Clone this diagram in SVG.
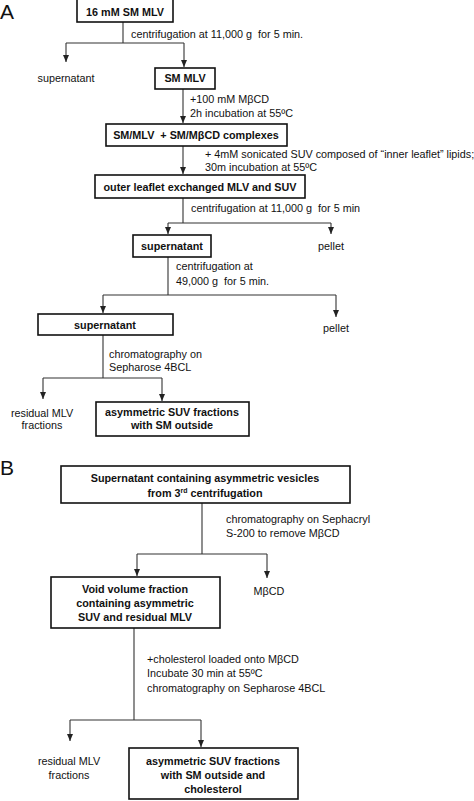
<svg xmlns="http://www.w3.org/2000/svg" width="474" height="801" viewBox="0 0 474 801">
<defs>
<marker id="ah" viewBox="0 0 7 6" refX="7" refY="3" markerWidth="7" markerHeight="6" markerUnits="userSpaceOnUse" orient="auto">
<path d="M0,0 L7,3 L0,6 Z" fill="#222"/>
</marker>
<style>
text{font-family:"Liberation Sans",Arial,sans-serif;font-size:10.8px;fill:#111;white-space:pre}
.b{font-weight:bold}
.m{text-anchor:middle}
.box{fill:#fff;stroke:#111;stroke-width:1.6}
.ln{fill:none;stroke:#333;stroke-width:1.1}
.lbl{font-size:21px;font-family:"Liberation Sans",Arial,sans-serif}
</style>
</defs>
<rect width="474" height="801" fill="#fff"/>
<text class="lbl" x="0" y="19">A</text>
<text class="lbl" x="0" y="475">B</text>

<g id="connectors">
<path class="ln" d="M123,22 V43 M66,43 H184"/>
<path class="ln" d="M66,43 V62" marker-end="url(#ah)"/>
<path class="ln" d="M184,43 V67" marker-end="url(#ah)"/>
<path class="ln" d="M183,89 V123" marker-end="url(#ah)"/>
<path class="ln" d="M183,146 V174" marker-end="url(#ah)"/>
<path class="ln" d="M183,198 V223 M168,223 H331"/>
<path class="ln" d="M168,223 V234" marker-end="url(#ah)"/>
<path class="ln" d="M331,223 V234" marker-end="url(#ah)"/>
<path class="ln" d="M168,257 V295 M103,295 H336"/>
<path class="ln" d="M103,295 V313" marker-end="url(#ah)"/>
<path class="ln" d="M336,295 V317" marker-end="url(#ah)"/>
<path class="ln" d="M103,335 V378 M43,378 H162"/>
<path class="ln" d="M43,378 V399" marker-end="url(#ah)"/>
<path class="ln" d="M162,378 V401" marker-end="url(#ah)"/>
<path class="ln" d="M202,503 V554 M137,554 H267"/>
<path class="ln" d="M137,554 V576" marker-end="url(#ah)"/>
<path class="ln" d="M267,554 V578" marker-end="url(#ah)"/>
<path class="ln" d="M134,628 V720 M70,720 H201"/>
<path class="ln" d="M70,720 V741" marker-end="url(#ah)"/>
<path class="ln" d="M201,720 V747" marker-end="url(#ah)"/>
</g>

<g id="connector-labels">
<text x="131" y="38">centrifugation at 11,000 g  for 5 min.</text>
<text x="190" y="103">+100 mM MβCD</text>
<text x="190" y="117">2h incubation at 55ºC</text>
<text x="205" y="158">+ 4mM sonicated SUV composed of “inner leaflet” lipids;</text>
<text x="205" y="171">30m incubation at 55ºC</text>
<text x="191" y="212">centrifugation at 11,000 g  for 5 min</text>
<text x="176" y="270">centrifugation at</text>
<text x="176" y="285">49,000 g  for 5 min.</text>
<text x="109" y="358">chromatography on</text>
<text x="109" y="371">Sepharose 4BCL</text>
<text x="226" y="523">chromatography on Sephacryl</text>
<text x="226" y="537">S-200 to remove MβCD</text>
<text x="147" y="663">+cholesterol loaded onto MβCD</text>
<text x="147" y="677">Incubate 30 min at 55ºC</text>
<text x="147" y="692">chromatography on Sepharose 4BCL</text>
</g>

<g id="n-16mM">
<rect class="box" x="77" y="-1" width="96" height="23"/>
<text class="b m" x="125" y="16">16 mM SM MLV</text>
</g>
<g id="n-supernatant1">
<text class="m" x="66" y="82">supernatant</text>
</g>
<g id="n-smmlv">
<rect class="box" x="155" y="68" width="60" height="21"/>
<text class="b m" x="185" y="82">SM MLV</text>
</g>
<g id="n-complexes">
<rect class="box" x="106" y="124" width="181" height="22"/>
<text class="b m" x="196" y="139">SM/MLV  + SM/MβCD complexes</text>
</g>
<g id="n-outer">
<rect class="box" x="95" y="175" width="210" height="23"/>
<text class="b m" x="200" y="191">outer leaflet exchanged MLV and SUV</text>
</g>
<g id="n-supernatant2">
<rect class="box" x="133" y="235" width="78" height="22"/>
<text class="b m" x="172" y="250">supernatant</text>
</g>
<g id="n-pellet1">
<text class="m" x="331" y="250">pellet</text>
</g>
<g id="n-supernatant3">
<rect class="box" x="38" y="314" width="135" height="21"/>
<text class="b m" x="105" y="329">supernatant</text>
</g>
<g id="n-pellet2">
<text class="m" x="336" y="332">pellet</text>
</g>
<g id="n-residual1">
<text class="m" x="42" y="417">residual MLV</text>
<text class="m" x="42" y="429">fractions</text>
</g>
<g id="n-asym1">
<rect class="box" x="96" y="402" width="153" height="34"/>
<text class="b m" x="172" y="416">asymmetric SUV fractions</text>
<text class="b m" x="172" y="429">with SM outside</text>
</g>

<g id="n-superB">
<rect class="box" x="61" y="466" width="289" height="37"/>
<text class="b m" x="205" y="482">Supernatant containing asymmetric vesicles</text>
<text class="b m" x="205" y="497">from 3<tspan font-size="7" dy="-4">rd</tspan><tspan dy="4"> centrifugation</tspan></text>
</g>
<g id="n-mbcd">
<text class="m" x="269" y="595">MβCD</text>
</g>
<g id="n-void">
<rect class="box" x="51" y="577" width="169" height="51"/>
<text class="b m" x="135" y="593">Void volume fraction</text>
<text class="b m" x="135" y="607">containing asymmetric</text>
<text class="b m" x="135" y="621">SUV and residual MLV</text>
</g>
<g id="n-residual2">
<text class="m" x="69" y="765">residual MLV</text>
<text class="m" x="69" y="779">fractions</text>
</g>
<g id="n-asym2">
<rect class="box" x="129" y="748" width="169" height="51"/>
<text class="b m" x="213" y="765">asymmetric SUV fractions</text>
<text class="b m" x="213" y="779">with SM outside and</text>
<text class="b m" x="213" y="793">cholesterol</text>
</g>
</svg>
